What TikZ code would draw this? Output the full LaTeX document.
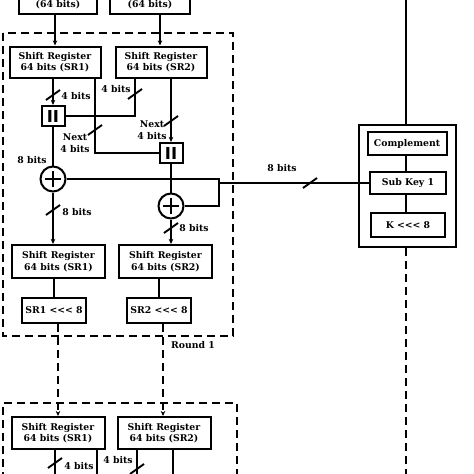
\documentclass[tikz,border=0pt]{standalone}
\usepackage{fontspec}
\setmainfont{DejaVu Serif}
\newfontfamily\catfont{DejaVu Sans}
\usetikzlibrary{positioning,arrows.meta}
\newcommand\rotl{{<}\kern0pt{<}\kern0pt{<}}
\tikzset{
  >={Stealth[length=1.8mm,width=1.6mm]},
  blk/.style={draw,line width=2pt,align=center,inner sep=1pt,
              font=\fontsize{9.3}{11.5}\selectfont\bfseries},
  sreg/.style={blk,minimum width=91pt,minimum height=31pt},
  rot/.style={blk,minimum width=64pt,minimum height=25pt},
  kbox/.style={blk,minimum width=77pt,minimum height=23pt},
  cat/.style={blk,minimum width=23pt,minimum height=20pt,inner sep=0pt,
              font=\catfont\fontsize{16.5}{16.5}\selectfont\bfseries},
  xor/.style={circle,draw,line width=2pt,minimum size=25pt,inner sep=0pt,
              path picture={\draw[line width=2pt]
                (path picture bounding box.center) ++(-8pt,0pt) -- ++(16pt,0pt)
                (path picture bounding box.center) ++(0pt,-8pt) -- ++(0pt,16pt);}},
  wire/.style={line width=1.8pt},
  rnd/.style={line width=2.4pt,dash pattern=on 8pt off 5pt},
  link/.style={line width=2pt,dash pattern=on 8pt off 5pt},
  lbl/.style={align=center,inner sep=0pt,font=\fontsize{9.3}{12}\selectfont\bfseries},
  bitcut/.pic={\draw[line width=1.9pt] (-7pt,-5pt) -- (7pt,5pt);},
}
\begin{document}
\begin{tikzpicture}[x=1pt,y=-1pt,node distance=13pt and 13pt]
  \useasboundingbox (0,0) rectangle (474,474);
  % inputs
  \node[blk,minimum width=78pt,minimum height=30pt,anchor=south] (inL) at (58,15) {\vphantom{X}\\(64 bits)};
  \node[blk,minimum width=80pt,minimum height=30pt,anchor=south] (inR) at (150,15) {\vphantom{X}\\(64 bits)};
  % round 1
  \draw[rnd] (3,33) rectangle (233,336);
  \node[lbl] (r1) at (193,345) {Round 1};
  \node[sreg] (sr1) at (55,62) {Shift Register\\64 bits (SR1)};
  \node[sreg,right=of sr1] (sr2) {Shift Register\\64 bits (SR2)};
  \draw[wire,->] (inL.south -| 55,0) -- (sr1.north);
  \draw[wire,->] (inR.south -| 160,0) -- (sr2.north -| 160,0);
  \node[cat] (cat1) at (53,116) {II};
  \node[cat] (cat2) at (171,153) {II};
  \node[xor] (xor1) at (53,179) {};
  \node[xor] (xor2) at (171,206) {};
  \coordinate (t1) at (95,77);
  \coordinate (t2) at (135,77);
  \draw[wire,->] (cat1.north |- sr1.south) -- (cat1.north);
  \draw[wire] (t1) |- (cat2.west);
  \draw[wire] (t2) |- (cat1.east);
  \draw[wire,->] (cat2.north |- sr2.south) -- (cat2.north);
  \pic at (53,95) {bitcut};
  \pic at (135,94) {bitcut};
  \pic at (95,130) {bitcut};
  \pic at (171,121) {bitcut};
  \node[lbl] at (76,96) {4 bits};
  \node[lbl] at (116,89) {4 bits};
  \node[lbl] at (75,143) {Next\\4 bits};
  \node[lbl] at (152,130) {Next\\4 bits};
  \draw[wire] (cat1) -- (xor1);
  \draw[wire] (cat2) -- (xor2);
  \node[lbl] at (32,160) {8 bits};
  % sub key feed
  \coordinate (ka) at (219,179);
  \coordinate (kb) at (219,206);
  \draw[wire] (xor1.east) -- (ka) -- (kb) -- (xor2.east);
  \node[sreg,minimum width=93pt,minimum height=33pt] (sr1b) at (58.5,261.5) {Shift Register\\64 bits (SR1)};
  \node[sreg,minimum width=93pt,minimum height=33pt,right=12pt of sr1b] (sr2b) {Shift Register\\64 bits (SR2)};
  \draw[wire,->] (xor1) -- (xor1 |- sr1b.north);
  \draw[wire,->] (xor2) -- (xor2 |- sr2b.north);
  \pic at (53,210) {bitcut};
  \pic at (171,228) {bitcut};
  \node[lbl] at (77,212) {8 bits};
  \node[lbl] at (194,228) {8 bits};
  \node[rot] (rot1) at (54,310.5) {SR1 \rotl\ 8};
  \node[rot] (rot2) at (159,310.5) {SR2 \rotl\ 8};
  \draw[wire] (rot1.north |- sr1b.south) -- (rot1.north);
  \draw[wire] (rot2.north |- sr2b.south) -- (rot2.north);
  % key schedule
  \node[draw,line width=2pt,minimum width=97pt,minimum height=122pt] (key) at (407,186) {};
  \node[kbox,minimum width=79pt] (comp) at (407,143.5) {Complement};
  \node[kbox,minimum width=76pt,minimum height=22pt] (sk) at (408,183) {Sub Key 1};
  \node[kbox,minimum width=74pt,minimum height=24pt] (kr) at (408,225) {K \rotl\ 8};
  \coordinate (ktop) at (406,0);
  \coordinate (kbot) at (406,474);
  \draw[wire] (ktop) -- (key.north -| ktop);
  \draw[wire] (comp.south -| ktop) -- (sk.north -| ktop);
  \draw[wire] (sk.south -| ktop) -- (kr.north -| ktop);
  \draw[link] (key.south -| kbot) -- (kbot);
  \draw[wire] (ka |- sk.west) -- (sk.west);
  \pic at (310,183) {bitcut};
  \node[lbl] at (282,168) {8 bits};
  % round 2
  \draw[rnd] (3,480) -- (3,403) -- (237,403) -- (237,480);
  \node[sreg,minimum width=93pt,minimum height=32pt] (sr1c) at (58,433) {Shift Register\\64 bits (SR1)};
  \node[sreg,minimum width=93pt,minimum height=32pt,right=11pt of sr1c] (sr2c) {Shift Register\\64 bits (SR2)};
  \draw[link,->] (sr1c.north |- rot1.south) -- (sr1c.north);
  \draw[link,->] (rot2.south -| 163,0) -- (sr2c.north -| 163,0);
  \coordinate (b1) at (55,474);
  \coordinate (b2) at (97,474);
  \coordinate (b3) at (137,474);
  \coordinate (b4) at (173,474);
  \draw[wire] (b1 |- sr1c.south) -- (b1);
  \draw[wire] (b2 |- sr1c.south) -- (b2);
  \draw[wire] (b3 |- sr2c.south) -- (b3);
  \draw[wire] (b4 |- sr2c.south) -- (b4);
  \pic at (55,463) {bitcut};
  \pic at (137,469) {bitcut};
  \node[lbl] at (79,466) {4 bits};
  \node[lbl] at (118,460) {4 bits};
\end{tikzpicture}
\end{document}
